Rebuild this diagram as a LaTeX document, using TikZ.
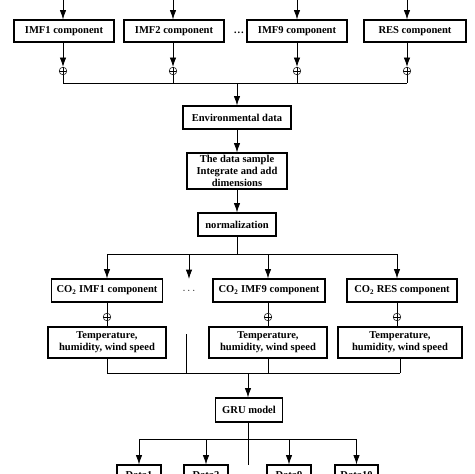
\documentclass[tikz,border=0pt]{standalone}
\usepackage{fontspec}
\setmainfont{Liberation Serif}
\usepackage{tikz}
\usetikzlibrary{arrows.meta,positioning,calc}

\begin{document}
\begin{tikzpicture}[x=0.03cm,y=-0.03cm,
  box/.style={draw,line width=0.9pt,inner sep=1pt,align=center,
    font=\bfseries\fontsize{9}{10.5}\selectfont},
  arr/.style={-{Latex[length=8pt,width=5.5pt]},line width=0.7pt},
  ln/.style={line width=0.7pt},
  oplus/.style={circle,draw,line width=0.45pt,inner sep=0pt,minimum size=6.5pt,
    path picture={\draw[line width=0.45pt]
      (path picture bounding box.north) -- (path picture bounding box.south)
      (path picture bounding box.west) -- (path picture bounding box.east);}},
  dotsnode/.style={inner sep=0pt,font=\bfseries\fontsize{9}{10.5}\selectfont}]
  \useasboundingbox (0,0) rectangle (474,474);

  % decomposition
  \node[box,minimum width=3cm,minimum height=0.66cm] (imf1) at (64,31) {IMF1 component};
  \node[box,minimum width=3cm,minimum height=0.66cm] (imf2) at (174,31) {IMF2 component};
  \node[box,minimum width=3cm,minimum height=0.66cm] (imf9) at (297,31) {IMF9 component};
  \node[box,minimum width=3.06cm,minimum height=0.66cm] (res) at (415,31) {RES component};
  \node[dotsnode] (dots1) at (239,33) {\dots};

  \coordinate (in1) at (63,0);
  \coordinate (in2) at (173,0);
  \coordinate (in9) at (297,0);
  \coordinate (inr) at (407,0);
  \node[oplus] (p1) at (63,71) {};
  \node[oplus] (p2) at (173,71) {};
  \node[oplus] (p9) at (297,71) {};
  \node[oplus] (pr) at (407,71) {};
  \coordinate (bus1) at (237,83);

  \foreach \i/\b in {1/imf1,2/imf2,9/imf9,r/res}{
    \draw[arr] (in\i) -- (in\i |- \b.north);
    \draw[arr] (p\i |- \b.south) -- (p\i);
    \draw[ln] (p\i) -- (p\i |- bus1);
  }
  \draw[ln] (p1 |- bus1) -- (pr |- bus1);

  % preprocessing
  \node[box,minimum width=3.24cm,minimum height=0.69cm] (env) at (237,117.5) {Environmental data};
  \node[box,minimum width=3cm,minimum height=1.08cm] (sample) at (237,171)
    {The data sample\\Integrate and add\\dimensions};
  \node[box,minimum width=2.34cm,minimum height=0.69cm] (norm) at (237,224.5) {normalization};
  \draw[arr] (bus1) -- (env);
  \draw[arr] (env) -- (sample);
  \draw[arr] (sample) -- (norm);

  % CO2 components
  \coordinate (bus2) at (237,254);
  \node[box,minimum width=3.33cm,minimum height=0.69cm] (c1) at (107,290.5) {CO\textsubscript{2} IMF1 component};
  \node[box,minimum width=3.36cm,minimum height=0.69cm] (c9) at (269,290.5) {CO\textsubscript{2} IMF9 component};
  \node[box,minimum width=3.3cm,minimum height=0.69cm] (cr) at (402,290.5) {CO\textsubscript{2} RES component};
  \node[dotsnode] (dots2) at (189,291) {$\cdots$};
  \coordinate (d2top) at (189,279);

  \node[oplus] (q1) at (107,317) {};
  \node[oplus] (q9) at (268,317) {};
  \node[oplus] (qr) at (397,317) {};

  \draw[ln] (norm) -- (bus2);
  \draw[ln] (q1 |- bus2) -- (qr |- bus2);
  \draw[arr] (q1 |- bus2) -- (c1);
  \draw[arr] (d2top |- bus2) -- (d2top);
  \draw[arr] (q9 |- bus2) -- (q9 |- c9.north);
  \draw[arr] (qr |- bus2) -- (qr |- cr.north);

  % environmental factors
  \node[box,minimum width=3.54cm,minimum height=0.93cm] (t1) at (107,342.5) {Temperature,\\humidity, wind speed};
  \node[box,minimum width=3.54cm,minimum height=0.93cm] (t9) at (268,342.5) {Temperature,\\humidity, wind speed};
  \node[box,minimum width=3.72cm,minimum height=0.93cm] (tr) at (400,342.5) {Temperature,\\humidity, wind speed};

  \draw[ln] (c1) -- (q1) -- (t1);
  \draw[ln] (q9 |- c9.south) -- (q9) -- (q9 |- t9.north);
  \draw[ln] (qr |- cr.south) -- (qr) -- (qr |- tr.north);

  \coordinate (bus3) at (248,373);
  \coordinate (v0) at (186,334);
  \draw[ln] (v0) -- (v0 |- bus3);
  \draw[ln] (t1) -- (t1 |- bus3);
  \draw[ln] (t9) -- (t9 |- bus3);
  \draw[ln] (tr) -- (tr |- bus3);
  \draw[ln] (t1 |- bus3) -- (tr |- bus3);

  % model and outputs
  \node[box,minimum width=2.01cm,minimum height=0.72cm] (gru) at (249,410) {GRU model};
  \draw[arr] (bus3) -- (bus3 |- gru.north);

  \coordinate (bus4) at (248,439);
  \coordinate (stub) at (248,465);
  \draw[ln] (bus4 |- gru.south) -- (stub);

  \node[box,minimum width=1.32cm,minimum height=0.6cm] (d1) at (139,475) {Data1};
  \node[box,minimum width=1.32cm,minimum height=0.6cm] (d2) at (206,475) {Data2};
  \node[box,minimum width=1.32cm,minimum height=0.6cm] (d9) at (289,475) {Data9};
  \node[box,minimum width=1.29cm,minimum height=0.6cm] (d10) at (356.5,475) {Data10};

  \draw[ln] (d1 |- bus4) -- (d10 |- bus4);
  \foreach \d in {d1,d2,d9,d10}
    \draw[arr] (\d |- bus4) -- (\d);
\end{tikzpicture}
\end{document}
